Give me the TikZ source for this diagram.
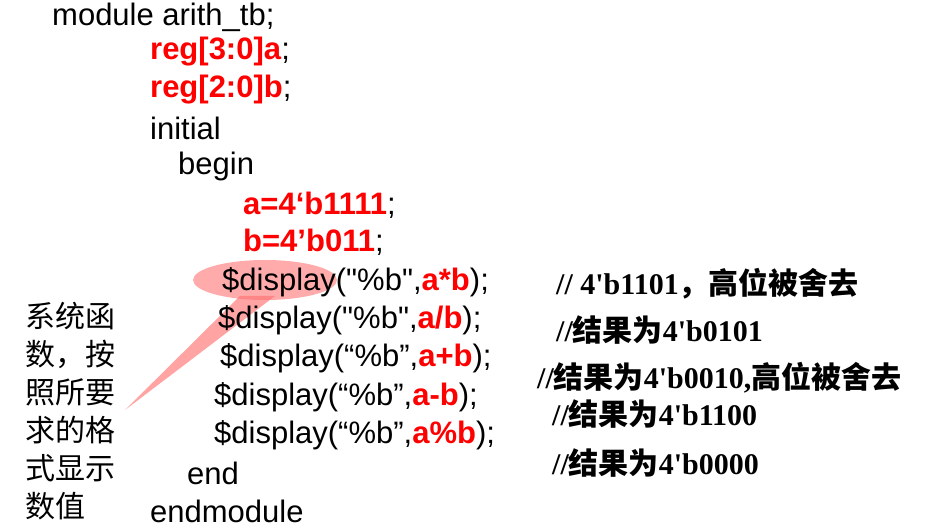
\documentclass[tikz,border=0pt]{standalone}
\usepackage{fontspec}
\setmainfont{Liberation Sans}
\newfontfamily\cjk{Noto Sans CJK SC}
\newfontfamily\tms{Liberation Serif}
\usetikzlibrary{shapes.geometric}
\definecolor{cred}{RGB}{255,0,0}
\begin{document}
\begin{tikzpicture}[x=1pt,y=-1pt,
  code/.style={anchor=west,inner sep=0pt,font=\fontsize{31}{34}\selectfont},
  cmt/.style={anchor=west,inner sep=0pt,font=\fontsize{30}{33}\selectfont\bfseries\tms},
  side/.style={anchor=west,inner sep=0pt,font=\fontsize{30}{33}\selectfont\cjk}]
\useasboundingbox (0,0) rectangle (929,529);
\newcommand{\rd}[1]{\textcolor{cred}{\textbf{#1}}}
\newcommand{\qq}{\textquotedbl}
% callout
\fill[red!60!white,opacity=0.6] (240,296) -- (125,410) -- (275,296) -- cycle;
\fill[red!55!white,opacity=0.6] (265,280) ellipse (72 and 20);
\node[code] (l1) at (52,17) {module arith\_tb;};
\node[code] (l2) at (150,52) {\rd{reg[3:0]a};};
\node[code] (l3) at (150,90) {\rd{reg[2:0]b};};
\node[code] (l4) at (150,128) {initial};
\node[code] (l5) at (178,166) {begin};
\node[code] (l6) at (243,205) {\rd{a=4‘b1111};};
\node[code] (l7) at (243,242) {\rd{b=4’b011};};
\node[code] (l8) at (222,282) {\$display(\qq\%b\qq,\rd{a*b});};
\node[code] (l9) at (218,320) {\$display(\qq\%b\qq,\rd{a/b});};
\node[code] (l10) at (220,358) {\$display(“\%b”,\rd{a+b});};
\node[code] (l11) at (214,397) {\$display(“\%b”,\rd{a-b});};
\node[code] (l12) at (214,435) {\$display(“\%b”,\rd{a\%b});};
\node[code] (l13) at (187,473) {end};
\node[code] (l14) at (150,511) {endmodule};
\node[cmt] (c1) at (556,284) {// 4'b1101{\cjk，高位被舍去}};
\node[cmt] (c2) at (556,330) {//{\cjk 结果为}4'b0101};
\node[cmt] (c3) at (537,378) {//{\cjk 结果为}4'b0010,{\cjk 高位被舍去}};
\node[cmt] (c4) at (552,414) {//{\cjk 结果为}4'b1100};
\node[cmt] (c5) at (552,463) {//{\cjk 结果为}4'b0000};
\node[side] (s1) at (25,316) {系统函};
\node[side] (s2) at (25,354) {数，按};
\node[side] (s3) at (25,392) {照所要};
\node[side] (s4) at (25,430) {求的格};
\node[side] (s5) at (25,468) {式显示};
\node[side] (s6) at (25,506) {数值};
\end{tikzpicture}
\end{document}
